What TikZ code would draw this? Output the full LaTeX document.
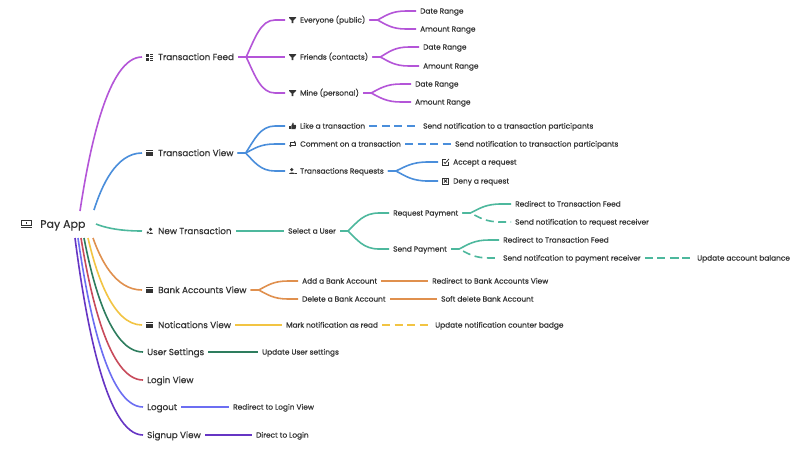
\documentclass[tikz,border=0pt]{standalone}
\usepackage{fontspec}
\setmainfont{Poppins}[FakeBold=0.45]
\usetikzlibrary{calc}
\definecolor{txtc}{HTML}{333333}
\definecolor{icoc}{HTML}{333333}
\definecolor{cPurple}{HTML}{B455D8}
\definecolor{cBlue}{HTML}{4A8EDB}
\definecolor{cTeal}{HTML}{4DB89D}
\definecolor{cOrange}{HTML}{E0904E}
\definecolor{cYellow}{HTML}{F2C443}
\definecolor{cGreen}{HTML}{2E7D5E}
\definecolor{cRed}{HTML}{C84B5B}
\definecolor{cViolet}{HTML}{6C6EF2}
\definecolor{cDeep}{HTML}{6635C4}
\tikzset{
  txt/.style={inner xsep=4pt, inner ysep=0pt, anchor=west, text=txtc},
  rootf/.style={txt, font=\fontsize{11}{13}\selectfont, text height=7.7pt, text depth=0pt},
  lone/.style={txt, font=\fontsize{8.8}{10}\selectfont, text height=6.2pt, text depth=0pt},
  lf/.style={txt, font=\fontsize{7.4}{9}\selectfont, text height=5.2pt, text depth=0pt},
  link/.style={line width=1.6pt},
  mydash/.style={dash pattern=on 8pt off 4.5pt},
  icofeed/.pic={\fill[icoc] (0,-3.5) rectangle (3,-0.5); \fill[icoc] (0,0.5) rectangle (3,3.5);
    \fill[icoc] (4,-3.5) rectangle (7,-2.5); \fill[icoc] (4,-1.5) rectangle (7,-0.5);
    \fill[icoc] (4,0.5) rectangle (7,1.5); \fill[icoc] (4,2.5) rectangle (7,3.5);},
  icoview/.pic={\fill[icoc] (0,-3) rectangle (7,-1.6); \fill[icoc] (0,-0.9) rectangle (2.6,0.5);
    \fill[icoc] (3.4,-0.9) rectangle (7,0.5); \fill[icoc] (0,1.2) rectangle (2.6,2.8);
    \fill[icoc] (3.4,1.2) rectangle (7,2.8);},
  icofunnel/.pic={\fill[icoc] (0,-3) -- (7,-3) -- (7,-2) -- (4.3,0.6) -- (4.3,3.2) -- (2.7,3.2) -- (2.7,0.6) -- (0,-2) -- cycle;},
  icothumb/.pic={\fill[icoc] (0,-0.3) rectangle (1.7,3.2);
    \fill[icoc] (2.4,-0.3) -- (3.8,-3.4) .. controls (4.8,-3.4) and (4.9,-2.5) .. (4.6,-1.2) -- (6.6,-1.2) .. controls (7.3,-1.2) and (7.3,-0.6) .. (7.1,0) -- (6.5,3.2) -- (2.4,3.2) -- cycle;},
  icoretw/.pic={\draw[icoc, line width=0.8pt] (1,1) -- (1,-1.8) -- (5.2,-1.8);
    \fill[icoc] (5,-3.2) -- (7,-1.8) -- (5,-0.4) -- cycle;
    \draw[icoc, line width=0.8pt] (6,-1) -- (6,1.8) -- (1.8,1.8);
    \fill[icoc] (2,0.4) -- (0,1.8) -- (2,3.2) -- cycle;},
  icoperson/.pic={\fill[icoc] (2.8,-1.4) circle (1.7);
    \fill[icoc] (0,3.3) .. controls (0,0.8) and (5.6,0.8) .. (5.6,3.3) -- cycle;
    \fill[icoc] (6,2.3) rectangle (7.5,3.3);},
  iconewtx/.pic={\fill[icoc] (4.6,-1.7) circle (1.7);
    \fill[icoc] (2.2,3.3) .. controls (2.2,0.6) and (7,0.6) .. (7,3.3) -- cycle;
    \filldraw[fill=icoc, draw=white, line width=0.6pt] (1.9,1.5) circle (1.9);},
  icocheck/.pic={\draw[icoc, line width=0.8pt] (4,-2.8) -- (0.5,-2.8) -- (0.5,2.9) -- (6.2,2.9) -- (6.2,-0.5);
    \draw[icoc, line width=0.8pt] (2,0.2) -- (3.2,1.4) -- (6.9,-3);},
  icodeny/.pic={\draw[icoc, line width=0.8pt] (0.4,-3) rectangle (6.6,3);
    \draw[icoc, line width=0.8pt] (2,-1.5) -- (5,1.5) (2,1.5) -- (5,-1.5);},
  icoapp/.pic={\draw[icoc, line width=0.9pt] (0.5,-3.4) rectangle (10.5,1.8);
    \fill[icoc] (0,2.6) rectangle (11,3.6); \fill[icoc] (4.6,-2) rectangle (6.4,0.4);},
}
\newcommand\rootlink[3]{\draw[link,#1] let \p1=(#2), \p2=(#3.west) in
  (\p1) .. controls ({\x1+0.15*(\x2-\x1)},{\y1+0.4*(\y2-\y1)}) and ({\x1+0.45*(\x2-\x1)},\y2) .. (\p2);}
\newcommand\forklink[4][]{\draw[link,#2,#1] let \p1=(#3.east), \p2=(#4.west) in
  (\p1) -- ++(8pt,0pt) .. controls ({\x1+8pt+0.3*(\x2-\x1-18pt)},{\y1+0.5*(\y2-\y1)}) and ({\x1+8pt+0.5*(\x2-\x1-18pt)},\y2) .. ({\x2-10pt},\y2) -- (\p2);}
\begin{document}
\begin{tikzpicture}[x=1pt,y=-1pt]
\useasboundingbox[fill=white] (0,0) rectangle (800,448);
% root
\node[rootf] (root) at (17,224) {\hspace*{19pt}Pay App};
\pic at ([xshift=4pt]root.west) {icoapp};
\coordinate (r1) at (80,211);
\coordinate (r2) at (94,210);
\coordinate (r3) at (96,224);
\coordinate (r4) at (93,238);
\coordinate (r5) at (88,238);
\coordinate (r6) at (84,238);
\coordinate (r7) at (81,238);
\coordinate (r8) at (78,238);
\coordinate (r9) at (75,238);
% level 1
\node[lone] (tf) at (142,57) {\hspace*{12pt}Transaction Feed};
\node[lone] (tv) at (142,153) {\hspace*{12pt}Transaction View};
\node[lone] (nt) at (142,231) {\hspace*{12pt}New Transaction};
\node[lone] (bav) at (142,290) {\hspace*{12pt}Bank Accounts View};
\node[lone] (nv) at (142,325) {\hspace*{12pt}Notications View};
\node[lone] (us) at (143,352) {User Settings};
\node[lone] (lv) at (143,380) {Login View};
\node[lone] (lo) at (143,407) {Logout};
\node[lone] (sv) at (143,435) {Signup View};
\pic at ([xshift=4pt]tf.west) {icofeed};
\pic at ([xshift=4pt]tv.west) {icoview};
\pic at ([xshift=4pt]nt.west) {iconewtx};
\pic at ([xshift=4pt]bav.west) {icoview};
\pic at ([xshift=4pt]nv.west) {icoview};
% feed subtree
\node[lf] (ev) at (285,20) {\hspace*{11pt}Everyone (public)};
\node[lf] (fr) at (285,57) {\hspace*{11pt}Friends (contacts)};
\node[lf] (mi) at (285,93) {\hspace*{11pt}Mine (personal)};
\pic at ([xshift=4pt]ev.west) {icofunnel};
\pic at ([xshift=4pt]fr.west) {icofunnel};
\pic at ([xshift=4pt]mi.west) {icofunnel};
\node[lf] (dr1) at (416,11) {Date Range};
\node[lf] (ar1) at (416,29) {Amount Range};
\node[lf] (dr2) at (419,47) {Date Range};
\node[lf] (ar2) at (419,66) {Amount Range};
\node[lf] (dr3) at (411,84) {Date Range};
\node[lf] (ar3) at (411,102) {Amount Range};
% view subtree
\node[lf] (lk) at (285,126) {\hspace*{11pt}Like a transaction};
\node[lf] (cm) at (285,144) {\hspace*{11pt}Comment on a transaction};
\node[lf] (trq) at (285,171) {\hspace*{11pt}Transactions Requests};
\pic at ([xshift=4pt]lk.west) {icothumb};
\pic at ([xshift=4pt]cm.west) {icoretw};
\pic at ([xshift=4pt]trq.west) {icoperson};
\node[lf] (sn1) at (419,126) {Send notification to a transaction participants};
\node[lf] (sn2) at (451,144) {Send notification to transaction participants};
\node[lf] (acc) at (438,162) {\hspace*{11pt}Accept a request};
\node[lf] (den) at (438,181) {\hspace*{11pt}Deny a request};
\pic at ([xshift=4pt]acc.west) {icocheck};
\pic at ([xshift=4pt]den.west) {icodeny};
% new transaction subtree
\node[lf] (su) at (284,231) {Select a User};
\node[lf] (rp) at (389,213) {Request Payment};
\node[lf] (sp) at (389,249) {Send Payment};
\node[lf] (rd1) at (511,204) {Redirect to Transaction Feed};
\node[lf] (snr) at (511,222) {Send notification to request receiver};
\node[lf] (rd2) at (499,240) {Redirect to Transaction Feed};
\node[lf] (snp) at (499,258) {Send notifcation to payment receiver};
\node[lf] (uab) at (693,258) {Update account balance};
% bank subtree
\node[lf] (aba) at (298,281) {Add a Bank Account};
\node[lf] (dba) at (298,299) {Delete a Bank Account};
\node[lf] (rba) at (428,281) {Redirect to Bank Accounts View};
\node[lf] (sdb) at (437,299) {Soft delete Bank Account};
% notifications
\node[lf] (mnr) at (282,325) {Mark notification as read};
\node[lf] (unc) at (431,325) {Update notification counter badge};
% others
\node[lf] (uus) at (258,352) {Update User settings};
\node[lf] (rtl) at (229,407) {Redirect to Login View};
\node[lf] (dtl) at (252,435) {Direct to Login};
% root links
\rootlink{cPurple}{r1}{tf}
\rootlink{cBlue}{r2}{tv}
\rootlink{cTeal}{r3}{nt}
\rootlink{cOrange}{r4}{bav}
\rootlink{cYellow}{r5}{nv}
\rootlink{cGreen}{r6}{us}
\rootlink{cRed}{r7}{lv}
\rootlink{cViolet}{r8}{lo}
\rootlink{cDeep}{r9}{sv}
% feed links
\forklink{cPurple}{tf}{ev}
\forklink{cPurple}{tf}{fr}
\forklink{cPurple}{tf}{mi}
\forklink{cPurple}{ev}{dr1}
\forklink{cPurple}{ev}{ar1}
\forklink{cPurple}{fr}{dr2}
\forklink{cPurple}{fr}{ar2}
\forklink{cPurple}{mi}{dr3}
\forklink{cPurple}{mi}{ar3}
% view links
\forklink{cBlue}{tv}{lk}
\forklink{cBlue}{tv}{cm}
\forklink{cBlue}{tv}{trq}
\forklink[mydash]{cBlue}{lk}{sn1}
\forklink[mydash]{cBlue}{cm}{sn2}
\forklink{cBlue}{trq}{acc}
\forklink{cBlue}{trq}{den}
% new transaction links
\forklink{cTeal}{nt}{su}
\forklink{cTeal}{su}{rp}
\forklink{cTeal}{su}{sp}
\forklink{cTeal}{rp}{rd1}
\forklink[mydash]{cTeal}{rp}{snr}
\forklink{cTeal}{sp}{rd2}
\forklink[mydash]{cTeal}{sp}{snp}
\forklink[mydash]{cTeal}{snp}{uab}
% bank links
\forklink{cOrange}{bav}{aba}
\forklink{cOrange}{bav}{dba}
\forklink{cOrange}{aba}{rba}
\forklink{cOrange}{dba}{sdb}
% notification links
\forklink{cYellow}{nv}{mnr}
\forklink[mydash]{cYellow}{mnr}{unc}
% others
\forklink{cGreen}{us}{uus}
\forklink{cViolet}{lo}{rtl}
\forklink{cDeep}{sv}{dtl}
\end{tikzpicture}
\end{document}
